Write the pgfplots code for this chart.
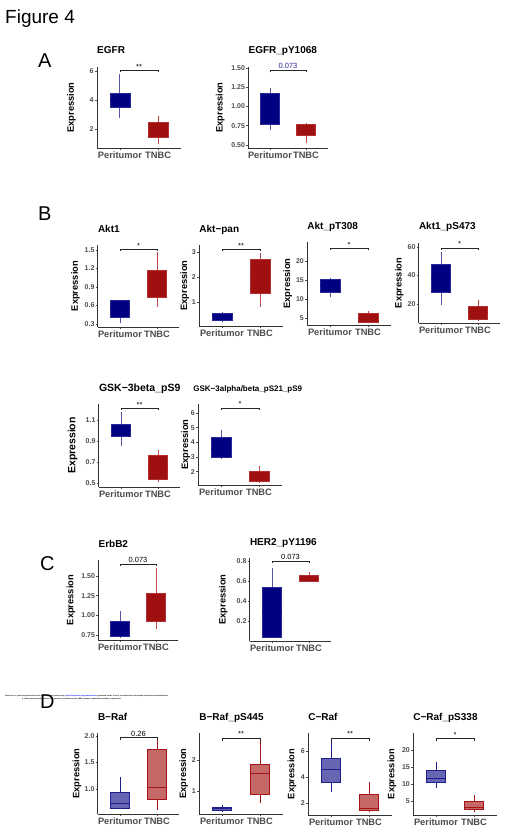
\documentclass[border=0pt]{standalone}
\usepackage{fontspec}
\setmainfont{Liberation Sans}
\usepackage{pgfplots}
\pgfplotsset{compat=1.18}
\usepgfplotslibrary{statistics}

\definecolor{navyF}{RGB}{0,0,128}
\definecolor{navyE}{RGB}{40,40,150}
\definecolor{navyW}{RGB}{85,85,170}
\definecolor{redF}{RGB}{160,16,16}
\definecolor{redE}{RGB}{178,48,48}
\definecolor{redW}{RGB}{195,70,70}
\definecolor{navyD}{RGB}{102,102,178}
\definecolor{navyO}{RGB}{30,30,140}
\definecolor{redD}{RGB}{197,104,104}
\definecolor{redO}{RGB}{165,20,20}

\newcommand{\tickf}{\bfseries\fontsize{7}{8}\selectfont}
\newcommand{\catf}{\bfseries\fontsize{9.3}{10}\selectfont}
\newcommand{\labf}{\bfseries\fontsize{9.3}{10}\selectfont}
\newcommand{\titf}{\bfseries\fontsize{10}{11}\selectfont}
\newcommand{\sigf}{\fontsize{7.5}{8}\selectfont}

\pgfplotsset{
  panel/.style={
    scale only axis, anchor=south west, clip=false,
    axis x line*=bottom, axis y line*=left,
    axis line style={draw=black!80, line width=0.75pt},
    xmin=0.4, xmax=2.6, xtick={1,2}, xticklabels={Peritumor,TNBC},
    tick align=outside, major tick length=2.2pt,
    tick style={draw=black!70, line width=0.6pt},
    yticklabel style={font=\tickf, text=black!70, inner sep=1pt},
    xticklabel style={font=\catf, text=black!70, inner sep=1.5pt},
    ylabel={Expression},
    y label style={font=\labf, anchor=south, inner sep=0pt},
    title style={at={(axis description cs:0,1)}, anchor=base west,
      yshift=7pt, inner sep=0pt, font=\titf},
    boxplot/draw direction=y,
    boxplot/box extend=0.52, boxplot/whisker extend=0,
  },
  lab/.style={y label style={at={(axis description cs:#1,0.5)}}},
  pA/.style={fill=navyF, draw=navyE, line width=0.6pt,
    boxplot/every whisker/.style={draw=navyW, line width=0.9pt},
    boxplot/every median/.style={draw=navyF, line width=0.6pt}},
  tA/.style={fill=redF, draw=redE, line width=0.6pt,
    boxplot/every whisker/.style={draw=redW, line width=0.9pt},
    boxplot/every median/.style={draw=redF, line width=0.6pt}},
  pD/.style={fill=navyD, draw=navyO, line width=0.8pt,
    boxplot/every whisker/.style={draw=navyO, line width=0.8pt},
    boxplot/every median/.style={draw=navyO, line width=1pt}},
  tD/.style={fill=redD, draw=redO, line width=0.8pt,
    boxplot/every whisker/.style={draw=redO, line width=0.8pt},
    boxplot/every median/.style={draw=redO, line width=1pt}},
}

% style, position, lower whisker, lower quartile, median, upper quartile, upper whisker
\newcommand{\bp}[7]{\addplot[#1, boxplot prepared={draw position=#2,
  lower whisker=#3, lower quartile=#4, median=#5,
  upper quartile=#6, upper whisker=#7}] coordinates {};}
% bracket top, bracket foot, label
\newcommand{\sig}[3]{\addplot[black!85, line width=0.55pt] coordinates {(1,#2) (1,#1) (2,#1) (2,#2)};
  \node[above, inner sep=0.8pt, font=\sigf] at (axis cs:1.5,#1) {#3};}

\begin{document}
\begin{tikzpicture}
\path[use as bounding box, fill=white] (0,0) rectangle (520pt,-837pt);

\node[anchor=base west, inner sep=0pt, font=\fontsize{19}{20}\selectfont] at (5pt,-24pt) {Figure 4};
\foreach \L/\x/\y in {A/38/68, B/38/220, C/40/570, D/40/708}
  \node[anchor=base west, inner sep=0pt, font=\fontsize{20}{21}\selectfont] at (\x pt,-\y pt) {\L};
\node[anchor=base west, inner sep=0pt, font=\fontsize{1.8}{2.2}\selectfont, align=left] at (5pt,-696pt)
  {\textbf{Data source: protein expression from the reverse phase protein array,} \textcolor{blue}{\textbf{https://tcpaportal.org/tcpa/download}} \textbf{processed values, level 4, see methods for the sample selection and normalisation}};
\node[anchor=base west, inner sep=0pt, font=\fontsize{1.8}{2.2}\selectfont] at (22pt,-699.5pt)
  {\textbf{p values by two-sided Wilcoxon rank sum test, peritumor versus TNBC samples, adjusted for multiple comparisons}};

% ---------- A ----------
\begin{axis}[panel, at={(97pt,-148pt)}, width=84pt, height=81pt,
  ymin=0.69, ymax=6.28, ytick={2,4,6}, yticklabels={2,4,6},
  title={EGFR}, lab=-0.25]
  \bp{pA}{1}{2.76}{3.52}{4.0}{4.48}{5.8}
  \bp{tA}{2}{0.97}{1.45}{1.95}{2.48}{2.9}
  \sig{6.07}{5.93}{**}
\end{axis}
\begin{axis}[panel, at={(248.4pt,-148pt)}, width=79.2pt, height=81pt,
  ymin=0.461, ymax=1.513, ytick={0.5,0.75,1,1.25,1.5},
  yticklabels={0.50,0.75,1.00,1.25,1.50},
  title={EGFR\_pY1068}, lab=-0.30]
  \bp{pA}{1}{0.69}{0.77}{0.97}{1.17}{1.24}
  \bp{tA}{2}{0.52}{0.63}{0.70}{0.77}{0.79}
  \sig{1.474}{1.448}{\textcolor{navyE}{0.073}}
\end{axis}

% ---------- B ----------
\begin{axis}[panel, at={(97.8pt,-327pt)}, width=81.4pt, height=82pt,
  ymin=0.252, ymax=1.581, ytick={0.3,0.6,0.9,1.2,1.5},
  yticklabels={0.3,0.6,0.9,1.2,1.5},
  title={Akt1}, lab=-0.22]
  \bp{pA}{1}{0.32}{0.405}{0.55}{0.68}{0.68}
  \bp{tA}{2}{0.58}{0.73}{0.95}{1.17}{1.47}
  \sig{1.516}{1.484}{*}
\end{axis}
\begin{axis}[panel, at={(199.2pt,-326pt)}, width=83.6pt, height=81pt,
  ymin=0.04, ymax=3.28, ytick={1,2,3}, yticklabels={1,2,3},
  title={Akt−pan}, lab=-0.12]
  \bp{pA}{1}{0.2}{0.28}{0.45}{0.56}{0.6}
  \bp{tA}{2}{0.8}{1.36}{2.0}{2.72}{2.98}
  \sig{3.12}{3.04}{**}
\end{axis}
\begin{axis}[panel, at={(307.2pt,-325pt)}, width=83.6pt, height=83pt,
  ymin=3.16, ymax=25, ytick={5,10,15,20}, yticklabels={5,10,15,20},
  title={Akt\_pT308}, lab=-0.18]
  \bp{pA}{1}{10.5}{11.8}{13.5}{15.3}{15.5}
  \bp{tA}{2}{3.7}{4.0}{5.0}{6.3}{6.8}
  \sig{23.4}{22.9}{*}
\end{axis}
\begin{axis}[panel, at={(418.8pt,-323pt)}, width=81.4pt, height=80pt,
  ymin=6.67, ymax=62.8, ytick={20,40,60}, yticklabels={20,40,60},
  title={Akt1\_pS473}, lab=-0.185]
  \bp{pA}{1}{19.3}{28.4}{38}{48}{56.5}
  \bp{tA}{2}{8.2}{9.5}{14}{18.6}{23}
  \sig{59.3}{57.9}{*}
\end{axis}

\begin{axis}[panel, at={(98.8pt,-487pt)}, width=81.4pt, height=83pt,
  ymin=0.462, ymax=1.252, ytick={0.5,0.7,0.9,1.1},
  yticklabels={0.5,0.7,0.9,1.1},
  title={GSK−3beta\_pS9}, lab=-0.26,
  title style={font=\bfseries\fontsize{10.5}{11}\selectfont},
  y label style={font=\bfseries\fontsize{10.5}{11}\selectfont}]
  \bp{pA}{1}{0.85}{0.94}{1.0}{1.06}{1.18}
  \bp{tA}{2}{0.51}{0.54}{0.65}{0.76}{0.81}
  \sig{1.214}{1.195}{**}
\end{axis}
\begin{axis}[panel, at={(198.2pt,-485pt)}, width=83.6pt, height=81pt,
  ymin=1.10, ymax=6.61, ytick={2,3,4,5,6}, yticklabels={2,3,4,5,6},
  title={GSK−3alpha/beta\_pS21\_pS9}, lab=-0.095,
  title style={font=\bfseries\fontsize{8}{9}\selectfont, xshift=-5pt}]
  \bp{pA}{1}{2.9}{2.97}{3.6}{4.33}{4.87}
  \bp{tA}{2}{1.3}{1.32}{1.6}{2.0}{2.4}
  \sig{6.34}{6.20}{*}
\end{axis}

% ---------- C ----------
\begin{axis}[panel, at={(98.4pt,-640pt)}, width=79.2pt, height=80pt,
  ymin=0.69, ymax=1.70, ytick={0.75,1,1.25,1.5},
  yticklabels={0.75,1.00,1.25,1.50},
  title={ErbB2}, lab=-0.29]
  \bp{pA}{1}{0.72}{0.74}{0.83}{0.93}{1.06}
  \bp{tA}{2}{0.83}{0.92}{1.1}{1.28}{1.60}
  \sig{1.65}{1.627}{0.073}
\end{axis}
\begin{axis}[panel, at={(249.8pt,-641pt)}, width=81.4pt, height=83pt,
  ymin=0, ymax=0.83, ytick={0.2,0.4,0.6,0.8}, yticklabels={0.2,0.4,0.6,0.8},
  title={HER2\_pY1196}, lab=-0.27]
  \bp{pA}{1}{0.03}{0.04}{0.3}{0.54}{0.73}
  \bp{tA}{2}{0.6}{0.6}{0.63}{0.66}{0.69}
  \sig{0.80}{0.78}{0.073}
\end{axis}

% ---------- D ----------
\begin{axis}[panel, at={(97.8pt,-814pt)}, width=81.4pt, height=81pt,
  ymin=0.528, ymax=2.057, ytick={1,1.5,2}, yticklabels={1.0,1.5,2.0},
  title={B−Raf}, lab=-0.2]
  \bp{pD}{1}{0.64}{0.64}{0.73}{0.94}{1.23}
  \bp{tD}{2}{0.6}{0.81}{1.02}{1.75}{1.92}
  \sig{1.98}{1.925}{0.26}
\end{axis}
\begin{axis}[panel, at={(199.2pt,-814pt)}, width=83.6pt, height=81pt,
  ymin=0.258, ymax=2.87, ytick={1,2}, yticklabels={1,2},
  title={B−Raf\_pS445}, lab=-0.13]
  \bp{pD}{1}{0.32}{0.39}{0.43}{0.48}{0.55}
  \bp{tD}{2}{0.62}{0.9}{1.55}{1.87}{2.6}
  \sig{2.71}{2.61}{**}
\end{axis}
\begin{axis}[panel, at={(308.2pt,-815pt)}, width=83.6pt, height=82pt,
  ymin=1.08, ymax=7.38, ytick={2,4,6}, yticklabels={2,4,6},
  title={C−Raf}, lab=-0.14]
  \bp{pD}{1}{2.85}{3.6}{4.54}{5.46}{6.77}
  \bp{tD}{2}{1.3}{1.46}{1.55}{2.7}{3.6}
  \sig{7.0}{6.77}{**}
\end{axis}
\begin{axis}[panel, at={(413.2pt,-815pt)}, width=83.6pt, height=82pt,
  ymin=0.88, ymax=25, ytick={5,10,15,20}, yticklabels={5,10,15,20},
  title={C−Raf\_pS338}, lab=-0.2]
  \bp{pD}{1}{8.8}{10.6}{11.5}{14.1}{16.5}
  \bp{tD}{2}{1.9}{2.4}{3.0}{5.0}{6.8}
  \sig{23.5}{22.6}{*}
\end{axis}
\end{tikzpicture}
\end{document}
